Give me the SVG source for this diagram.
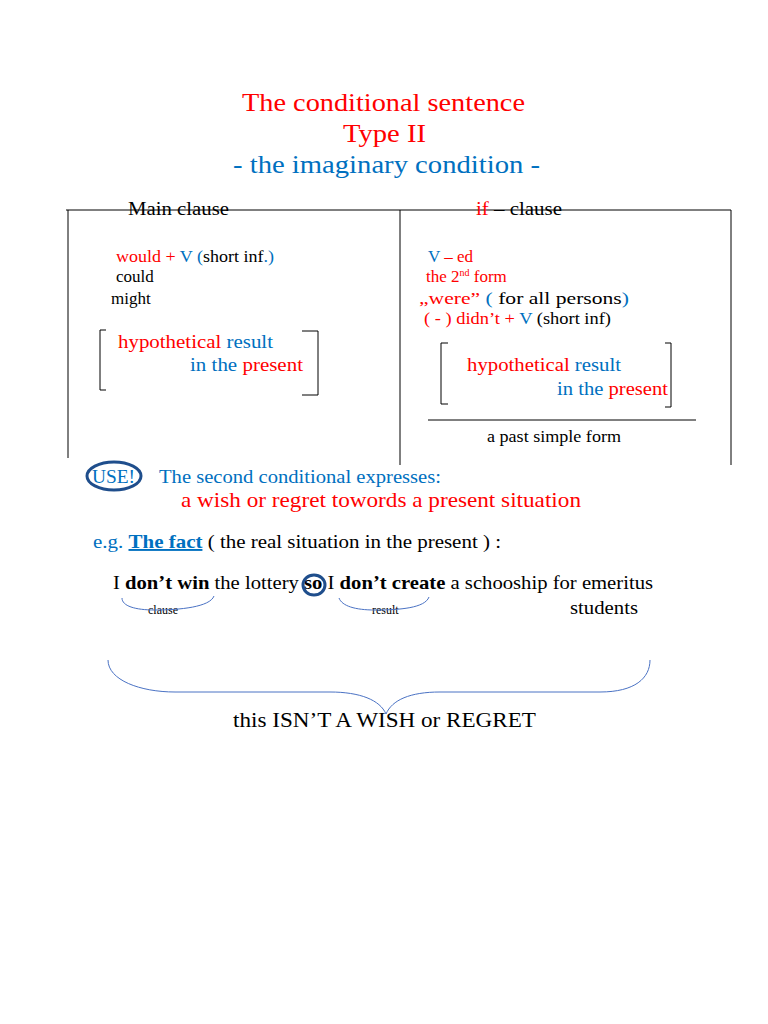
<svg xmlns="http://www.w3.org/2000/svg" width="768" height="1024" viewBox="0 0 768 1024" xml:space="preserve">
<style>
text{font-family:"Liberation Serif","Times New Roman",serif;fill:#000}
.r{fill:#ff0000}.b{fill:#0070c0}
.ln{stroke:#000;stroke-width:1;fill:none}
.br{stroke:#000;stroke-width:1;fill:none}
.bl{stroke:#4a72c4;stroke-width:1;fill:none}
</style>
<rect width="768" height="1024" fill="#fff"/>
<g id="title" font-size="26">
<text x="242" y="111" class="r" textLength="283" lengthAdjust="spacingAndGlyphs">The conditional sentence</text>
<text x="343" y="142" class="r" textLength="83" lengthAdjust="spacingAndGlyphs">Type II</text>
<text x="233" y="173" class="b" textLength="307" lengthAdjust="spacingAndGlyphs">- the imaginary condition -</text>
</g>
<g id="table">
<path class="ln" d="M66 210H731M68 210V458M400 210V465M731 210V465"/>
<text x="128" y="215" font-size="18" textLength="101" lengthAdjust="spacingAndGlyphs">Main clause</text>
<text x="476" y="215" font-size="18" textLength="86" lengthAdjust="spacingAndGlyphs"><tspan class="r">if</tspan> – clause</text>
</g>
<g id="main" font-size="17">
<text x="116" y="262" textLength="158" lengthAdjust="spacingAndGlyphs"><tspan class="r">would + </tspan><tspan class="b">V (</tspan>short inf<tspan class="b">.)</tspan></text>
<text x="116" y="282">could</text>
<text x="111" y="304">might</text>
<path class="br" d="M106 330H100V390H106M302 331H318V395H302"/>
<text x="118" y="348" font-size="19" textLength="155" lengthAdjust="spacingAndGlyphs"><tspan class="r">hypothetical</tspan><tspan class="b"> result</tspan></text>
<text x="190" y="371" font-size="19" textLength="113" lengthAdjust="spacingAndGlyphs"><tspan class="b">in the </tspan><tspan class="r">present</tspan></text>
</g>
<g id="ifc" font-size="17">
<text x="428" y="262"><tspan class="b">V</tspan><tspan class="r"> – ed</tspan></text>
<text x="426" y="282" class="r">the 2<tspan font-size="10" dy="-6">nd</tspan><tspan dy="6"> form</tspan></text>
<text x="419" y="304" textLength="210" lengthAdjust="spacingAndGlyphs"><tspan class="r">„were”  </tspan><tspan class="b">( </tspan>for all persons<tspan class="b">)</tspan></text>
<text x="424" y="324" textLength="187" lengthAdjust="spacingAndGlyphs"><tspan class="r">( - ) didn’t  + </tspan><tspan class="b">V </tspan>(short inf)</text>
<path class="br" d="M448 343H441V404H448M665 343H671V407H665"/>
<text x="467" y="371" font-size="19" textLength="154" lengthAdjust="spacingAndGlyphs"><tspan class="r">hypothetical</tspan><tspan class="b"> result</tspan></text>
<text x="557" y="395" font-size="19" textLength="111" lengthAdjust="spacingAndGlyphs"><tspan class="b">in the </tspan><tspan class="r">present</tspan></text>
<path class="ln" d="M428 420H696"/>
<text x="487" y="442" font-size="17" textLength="134" lengthAdjust="spacingAndGlyphs">a past simple form</text>
</g>
<g id="use">
<ellipse cx="114" cy="476" rx="27" ry="14" fill="none" stroke="#1f4e8c" stroke-width="3"/>
<text x="92" y="483" font-size="19" class="b" textLength="43" lengthAdjust="spacingAndGlyphs">USE!</text>
<text x="159" y="483" font-size="19" class="b" textLength="282" lengthAdjust="spacingAndGlyphs">The second conditional expresses:</text>
<text x="181" y="507" font-size="22" class="r" textLength="400" lengthAdjust="spacingAndGlyphs">a wish or regret towords a present situation</text>
</g>
<g id="fact" font-size="19">
<text x="93" y="548" textLength="408" lengthAdjust="spacingAndGlyphs"><tspan class="b">e.g. </tspan><tspan class="b" font-weight="bold" text-decoration="underline">The fact</tspan>  ( the real situation in the present ) :</text>
<text x="113" y="589" textLength="540" lengthAdjust="spacingAndGlyphs">I <tspan font-weight="bold">don’t win</tspan> the lottery <tspan font-weight="bold">so</tspan> I <tspan font-weight="bold">don’t create</tspan> a schooship for emeritus</text>
<text x="570" y="614" textLength="68" lengthAdjust="spacingAndGlyphs">students</text>
<ellipse cx="314" cy="585" rx="11" ry="10" fill="none" stroke="#1f4e8c" stroke-width="3"/>
<text x="148" y="614" font-size="12">clause</text>
<text x="372" y="614" font-size="12">result</text>
</g>
<g id="connectors">
<path class="bl" d="M122 598C122 606 135 610 155 610C180 610 210 607 214 596"/>
<path class="bl" d="M339 598C342 606 355 610 375 610C400 610 425 608 429 597"/>
<path class="bl" d="M108 660C108 680 140 692 175 692H330C360 692 380 700 386 714C392 700 410 692 440 692H600C635 692 650 678 650 660"/>
</g>
<text x="233" y="727" font-size="22" textLength="303" lengthAdjust="spacingAndGlyphs">this ISN’T A WISH or REGRET</text>
</svg>
